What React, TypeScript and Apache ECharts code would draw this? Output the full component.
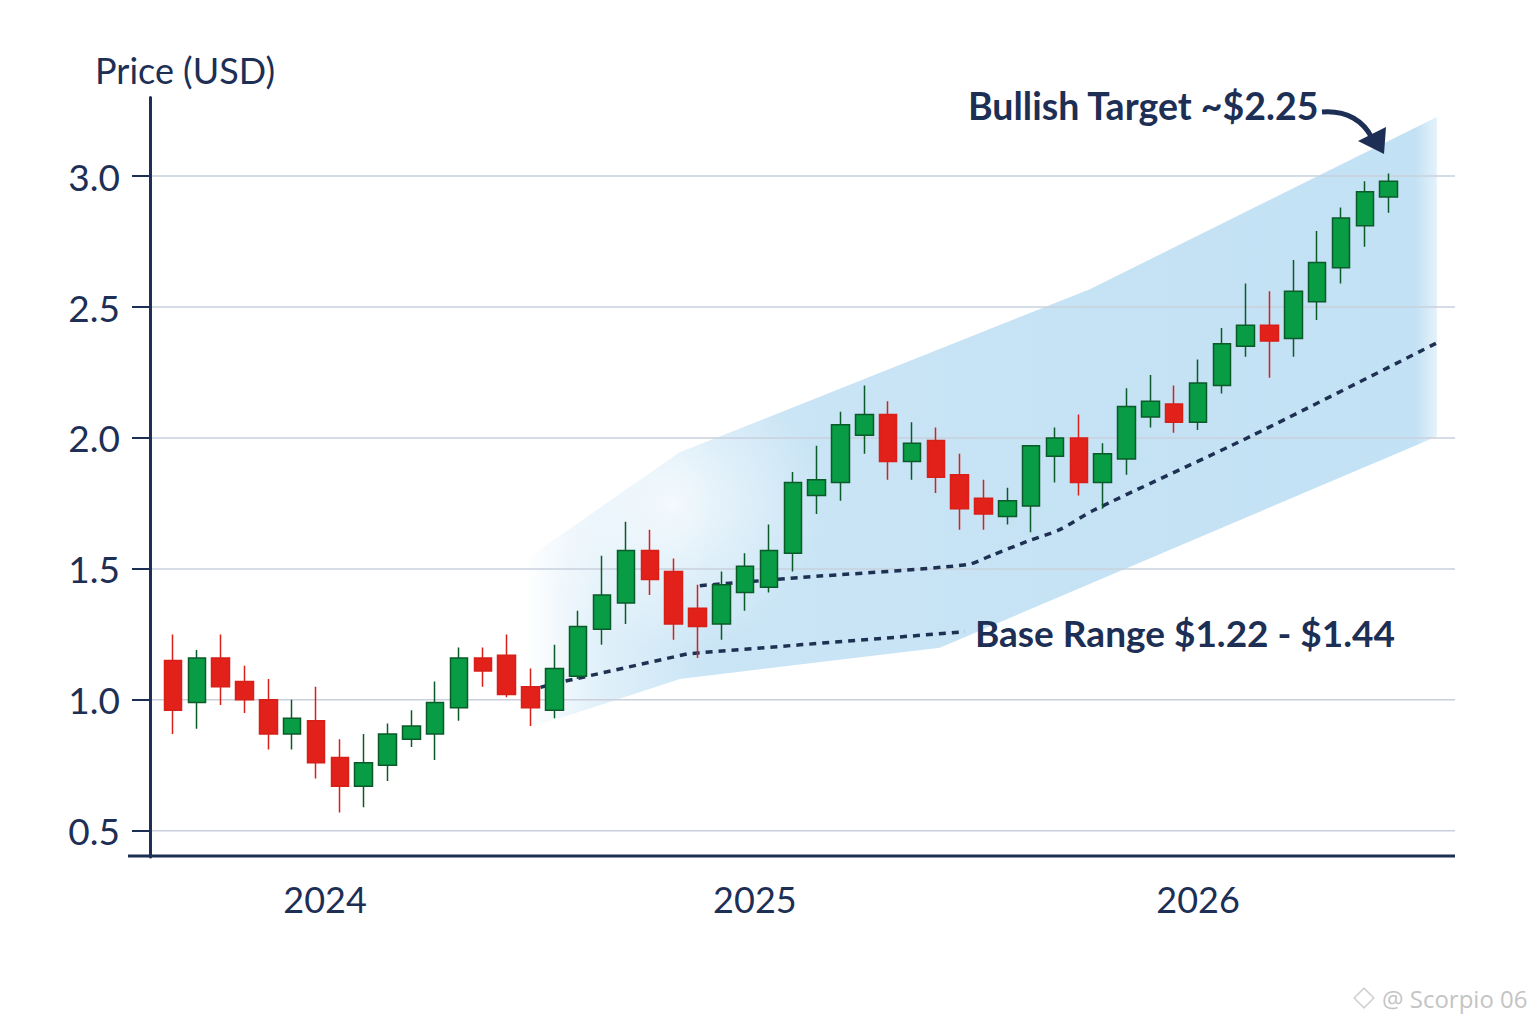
import React, { useEffect, useRef } from "react";
import * as echarts from "echarts";

// ---- Candles (index 0..51) ----
const opens = [1.15,0.99,1.16,1.07,1.00,0.87,0.92,0.78,0.67,0.75,0.85,0.87,0.97,1.16,1.17,1.05,0.96,1.09,1.27,1.37,1.57,1.49,1.35,1.29,1.41,1.43,1.56,1.78,1.83,2.01,2.09,1.91,1.99,1.86,1.77,1.70,1.74,1.93,2.00,1.83,1.92,2.08,2.13,2.06,2.20,2.35,2.43,2.38,2.52,2.65,2.81,2.92];
const closes = [0.96,1.16,1.05,1.00,0.87,0.93,0.76,0.67,0.76,0.87,0.90,0.99,1.16,1.11,1.02,0.97,1.12,1.28,1.40,1.57,1.46,1.29,1.28,1.44,1.51,1.57,1.83,1.84,2.05,2.09,1.91,1.98,1.85,1.73,1.71,1.76,1.97,2.00,1.83,1.94,2.12,2.14,2.06,2.21,2.36,2.43,2.37,2.56,2.67,2.84,2.94,2.98];
const lows = [0.87,0.89,0.98,0.95,0.81,0.81,0.70,0.57,0.59,0.69,0.82,0.77,0.92,1.05,1.01,0.90,0.93,1.08,1.21,1.29,1.40,1.23,1.16,1.23,1.34,1.41,1.49,1.71,1.76,1.94,1.84,1.84,1.79,1.65,1.65,1.67,1.64,1.83,1.78,1.73,1.86,2.04,2.02,2.03,2.17,2.31,2.23,2.31,2.45,2.59,2.73,2.86];
const highs = [1.25,1.19,1.25,1.13,1.08,1.00,1.05,0.85,0.87,0.91,0.96,1.07,1.20,1.20,1.25,1.12,1.21,1.34,1.55,1.68,1.65,1.54,1.44,1.49,1.56,1.67,1.87,1.97,2.10,2.20,2.14,2.06,2.04,1.94,1.84,1.81,1.97,2.04,2.09,1.98,2.19,2.24,2.20,2.30,2.42,2.59,2.56,2.68,2.79,2.88,2.98,3.01];

// ---- Axis ticks ----
const yTicks = [0.5, 1.0, 1.5, 2.0, 2.5, 3.0];
const yearLabels = ["2024", "2025", "2026"];
const yearPositions = [6.38, 24.41, 43.0];

// ---- Projection band (x = candle index, y = price) ----
const bandUpperX = [14.77, 21.27, 38.46, 53.02];
const bandUpperY = [1.535, 1.945, 2.568, 3.226];
const bandLowerX = [14.97, 21.27, 32.17, 53.02];
const bandLowerY = [0.893, 1.08, 1.199, 2.006];

// ---- Dashed guide lines ----
const baseLowX = [14.89, 15.94, 21.6, 26.3, 33.22];
const baseLowY = [1.034, 1.061, 1.176, 1.21, 1.26];
const baseHighX = [22.1, 26.3, 33.3, 34.4, 35.8, 37.2, 38.6, 45.2, 53.06];
const baseHighY = [1.436, 1.467, 1.516, 1.554, 1.604, 1.65, 1.723, 2.006, 2.365];

const NAVY = "#1d2f55";
const FONT = "Lato, 'Open Sans', sans-serif";

export default function App() {
  const ref = useRef<HTMLDivElement>(null);

  useEffect(() => {
    document.body.style.margin = "0";
    const chart = echarts.init(ref.current!, null, { renderer: "svg" });

    const candleData = opens.map((o, i) => [i, o, closes[i], lows[i], highs[i]]);

    const option: any = {
      animation: false,
      backgroundColor: "#ffffff",
      grid: { left: 150, right: 81, top: 97.5, bottom: 167, containLabel: false },
      xAxis: {
        type: "value",
        min: -0.965,
        max: 53.78,
        axisLine: { show: false, onZero: false },
        axisTick: { show: false },
        splitLine: { show: false },
        axisLabel: {
          customValues: yearPositions,
          formatter: (v: number) => {
            const k = yearPositions.findIndex((p) => Math.abs(p - v) < 1e-6);
            return k >= 0 ? yearLabels[k] : "";
          },
          fontSize: 36,
          fontFamily: FONT,
          color: NAVY,
          margin: 24,
        },
      },
      yAxis: {
        type: "value",
        min: 0.4,
        max: 3.3,
        axisLine: { show: true, onZero: false, lineStyle: { color: NAVY, width: 3 } },
        axisTick: { show: true, customValues: yTicks, length: 18, lineStyle: { color: NAVY, width: 2 } },
        splitLine: { show: false },
        axisLabel: {
          customValues: yTicks,
          formatter: (v: number) => v.toFixed(1),
          fontSize: 37,
          fontFamily: FONT,
          color: NAVY,
          margin: 30,
        },
      },
      series: [
        {
          type: "custom",
          name: "band",
          z: 1,
          silent: true,
          data: [[bandUpperX[0], bandUpperY[0]]],
          renderItem: (params: any, api: any) => {
            const up = bandUpperX.map((x, i) => api.coord([x, bandUpperY[i]]));
            const lo = bandLowerX.map((x, i) => api.coord([x, bandLowerY[i]])).reverse();
            const pts = up.concat(lo);
            const x0 = Math.min(up[0][0], lo[lo.length - 1][0]);
            const x1 = up[up.length - 1][0];
            const c = (a: number) => `rgba(188,222,243,${a})`;
            const grad = new echarts.graphic.LinearGradient(x0, 0, x1 + 6, 0, [
              { offset: 0, color: c(0) },
              { offset: 0.08, color: c(0.45) },
              { offset: 0.2, color: c(0.8) },
              { offset: 0.97, color: c(0.9) },
              { offset: 1, color: c(0.25) },
            ], true);
            const g1 = api.coord([21, 1.75]);
            const glow = new echarts.graphic.RadialGradient(g1[0], g1[1], 150, [
              { offset: 0, color: "rgba(255,255,255,0.75)" },
              { offset: 1, color: "rgba(255,255,255,0)" },
            ], true);
            return {
              type: "group",
              children: [
                { type: "polygon", shape: { points: pts }, style: { fill: grad } },
                { type: "polygon", shape: { points: pts }, style: { fill: glow } },
              ],
            };
          },
        },
        {
          type: "custom",
          name: "grid",
          z: 2,
          silent: true,
          data: yTicks.map((v) => [0, v]),
          renderItem: (params: any, api: any) => {
            const cs = params.coordSys;
            const y = api.coord([0, api.value(1)])[1];
            return {
              type: "line",
              shape: { x1: cs.x + 2, y1: y, x2: cs.x + cs.width, y2: y },
              style: { stroke: "#c9d0dc", lineWidth: 1.5 },
            };
          },
        },
        {
          type: "line",
          name: "baseLow",
          z: 3,
          symbol: "none",
          silent: true,
          data: baseLowX.map((x, i) => [x, baseLowY[i]]),
          lineStyle: { color: "#1e3152", width: 3.5, type: [7, 6] },
        },
        {
          type: "line",
          name: "baseHigh",
          z: 3,
          symbol: "none",
          smooth: 0.25,
          silent: true,
          data: baseHighX.map((x, i) => [x, baseHighY[i]]),
          lineStyle: { color: "#1e3152", width: 3.5, type: [7, 6] },
        },
        {
          type: "candlestick",
          name: "price",
          z: 4,
          barWidth: 18,
          encode: { x: 0, y: [1, 2, 3, 4] },
          data: candleData,
          itemStyle: {
            color: "#089c45",
            color0: "#e2211a",
            borderColor: "#0a5a2a",
            borderColor0: "#d81f18",
            borderWidth: 1.5,
          },
        },
      ],
      graphic: [
        {
          type: "line",
          shape: { x1: 128, y1: 856, x2: 1455, y2: 856 },
          style: { stroke: NAVY, lineWidth: 3 },
          z: 10,
        },
        {
          type: "text",
          x: 95,
          y: 70,
          style: { text: "Price (USD)", font: `normal 36px ${FONT}`, fill: NAVY, textAlign: "left", textVerticalAlign: "middle" },
        },
        {
          type: "text",
          x: 968,
          y: 105,
          style: { text: "Bullish Target ~$2.25", font: `bold 37.5px ${FONT}`, fill: NAVY, textAlign: "left", textVerticalAlign: "middle" },
        },
        {
          type: "text",
          x: 975,
          y: 632,
          style: { text: "Base Range $1.22 - $1.44", font: `bold 37px ${FONT}`, fill: NAVY, textAlign: "left", textVerticalAlign: "middle" },
          z: 20,
        },
        {
          type: "bezierCurve",
          shape: { x1: 1322, y1: 112, cpx1: 1348, cpy1: 110, cpx2: 1364, cpy2: 122, x2: 1372, y2: 138 },
          style: { stroke: NAVY, lineWidth: 5, fill: "none" },
          z: 20,
        },
        {
          type: "polygon",
          shape: { points: [[1358, 141], [1386, 127], [1384, 154]] },
          style: { fill: NAVY },
          z: 20,
        },
        {
          type: "rect",
          x: 1364,
          y: 998,
          originX: 0,
          originY: 0,
          rotation: Math.PI / 4,
          shape: { x: -7, y: -7, width: 14, height: 14 },
          style: { fill: "none", stroke: "#d0d0d0", lineWidth: 1.5 },
        },
        {
          type: "text",
          x: 1382,
          y: 998,
          style: { text: "@ Scorpio 06", font: `normal 24px 'Open Sans', sans-serif`, fill: "#c4c4c4", textAlign: "left", textVerticalAlign: "middle" },
        },
      ],
    };

    chart.setOption(option);
    return () => chart.dispose();
  }, []);

  return <div ref={ref} style={{ width: 1536, height: 1024 }} />;
}
